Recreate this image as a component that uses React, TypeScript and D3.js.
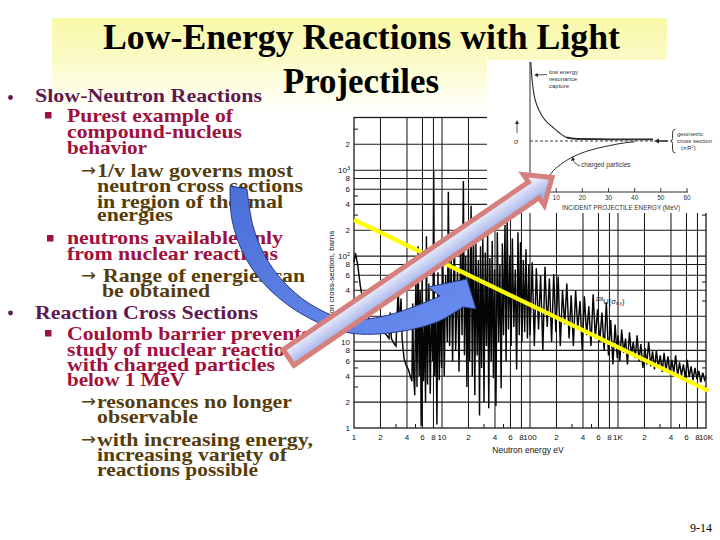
import React from "react";
import * as d3 from "d3";

type Pt = [number, number];

// ---------- main chart: neutron cross section of 238U (energy eV, sigma barns) ----------
const thermalRegion: Pt[] = [
  [1.0, 85], [1.04, 108], [1.1, 80], [1.18, 45], [1.28, 28], [1.42, 20], [1.6, 17],
  [1.85, 15], [2.1, 13.5], [2.35, 12], [2.5, 11], [2.58, 22], [2.66, 11], [2.85, 9.6],
  [3.0, 9], [3.08, 19], [3.18, 44], [3.27, 14], [3.42, 32], [3.52, 11], [3.7, 6.5],
  [3.9, 5.4], [4.15, 4.8], [4.4, 3.9], [4.55, 3.5], [4.65, 28], [4.75, 4.5], [4.9, 2.4],
];

const resolvedLow: Pt[] = [
  [5.05, 75], [5.2, 3], [5.35, 130], [5.5, 4], [5.65, 40], [5.8, 1.05], [5.95, 55],
  [6.15, 3.5], [6.35, 18], [6.5, 2], [6.65, 170], [6.85, 3.2], [7.1, 48], [7.35, 2.5],
  [7.6, 30], [7.85, 6], [8.05, 980], [8.25, 4], [8.5, 26], [8.75, 1.1], [9.0, 65],
  [9.3, 3.6], [9.6, 36], [9.9, 5], [10.2, 110], [10.6, 4], [11.0, 60], [11.5, 10],
  [11.8, 560], [12.2, 9], [12.7, 90], [13.2, 6], [13.8, 200], [14.3, 8], [15.0, 70],
  [15.6, 4.5], [16.3, 150], [16.9, 12], [17.5, 750], [18.0, 7], [18.6, 100], [19.2, 3],
  [19.9, 180], [20.6, 6], [21.4, 385], [22.1, 4], [22.8, 230], [23.6, 2.4], [24.3, 140],
  [25.1, 7], [25.9, 90], [26.7, 1.4], [27.4, 130], [28.2, 5], [29.1, 165], [30.0, 2],
  [31.0, 110], [32.0, 9], [33.0, 180], [34.0, 1.7], [35.0, 95], [36.2, 6], [37.2, 150],
  [38.4, 3.8], [39.6, 70], [41.0, 1.8], [42.5, 190], [44.0, 10], [45.5, 80], [47.0, 2.9],
  [48.5, 140], [50.0, 12], [52.0, 230], [53.5, 6], [55.0, 270], [57.0, 14], [59.0, 100],
  [61.0, 9], [63.0, 160], [65.5, 15], [68.0, 70], [70.5, 4.8], [73.0, 190], [75.5, 12],
  [78.0, 145], [81.0, 10], [84.0, 90], [87.0, 13], [90.0, 120], [93.5, 11], [97.0, 80],
];

const resolvedHigh: Pt[] = [
  [100, 12], [106, 85], [112, 9], [118, 72], [125, 14], [132, 60], [140, 8], [148, 75],
  [157, 15], [166, 55], [176, 10], [186, 62], [197, 13], [209, 58], [221, 9], [234, 40],
  [248, 16], [262, 48], [278, 11], [294, 35], [311, 9], [330, 40], [349, 14], [370, 30],
  [392, 8], [415, 34], [440, 12], [466, 26], [493, 9], [522, 36], [553, 11], [586, 24],
  [620, 10], [657, 22], [696, 8], [737, 29], [780, 7], [826, 18], [875, 5.5], [927, 16],
  [982, 6.5],
];

const unresolvedRegion: Pt[] = [
  [1000, 12], [1050, 6], [1100, 14], [1160, 7.5], [1220, 11], [1280, 5.5], [1350, 13],
  [1420, 7], [1490, 10], [1570, 6.5], [1650, 12], [1730, 6], [1820, 9.5], [1920, 5],
  [2020, 8.5], [2120, 5.5], [2230, 10], [2350, 5.2], [2470, 7.8], [2600, 4.8], [2730, 8],
  [2870, 5], [3020, 7], [3180, 4.5], [3340, 7.5], [3510, 4.6], [3700, 6.8], [3890, 4.2],
  [4090, 6.2], [4300, 4.4], [4520, 7], [4760, 4.0], [5000, 5.8], [5260, 4.1], [5530, 5.5],
  [5820, 3.8], [6120, 6.2], [6440, 3.9], [6770, 5.2], [7120, 3.6], [7490, 5], [7880, 3.7],
  [8290, 4.6], [8720, 3.4], [9170, 4.4], [9650, 3.6], [10000, 3.9],
];

// 1/v trend line (yellow)
const trendEnergy = [1, 10700];
const trendSigma = [265, 2.7];

const xTickValues = [1, 2, 4, 6, 8, 10, 20, 40, 60, 80, 100, 200, 400, 600, 800, 1000, 2000, 4000, 6000, 8000, 10000];
const xTickLabels = ["1", "2", "4", "6", "8", "10", "2", "4", "6", "8", "100", "2", "4", "6", "8", "1K", "2", "4", "6", "8", "10K"];
const yTickValues = [1, 2, 4, 6, 8, 10, 20, 40, 60, 80, 100, 200, 400, 600, 800, 1000, 2000];
const yTickLabels = ["1", "2", "4", "6", "8", "10", "2", "4", "6", "8", "10^2", "2", "4", "6", "8", "10^3", "2"];
const xMinorTicks = [3, 5, 30, 50, 300, 500, 3000, 5000];
const yMinorTicks = [3, 5, 30, 50, 300, 500, 3000];

// ---------- inset: sigma vs incident projectile energy ----------
const insetTickMeV = [10, 20, 30, 40, 50, 60];
const captureCurve: Pt[] = [
  [0.3, 2.55], [0.8, 2.2], [1.5, 1.92], [2.5, 1.72], [3.8, 1.57], [5, 1.46], [6.5, 1.37],
  [8.5, 1.28], [10.3, 1.2], [12, 1.13], [14, 1.07], [17, 1.045], [25, 1.035], [35, 1.03], [47, 1.03],
];
const chargedCurve: Pt[] = [
  [6.5, 0.22], [8, 0.36], [11.5, 0.53], [16.4, 0.69], [23, 0.82], [29.5, 0.9], [37, 0.97], [40, 0.985],
];
const geometricLine: Pt[] = [[0, 1], [47, 1]];

// ---------- slide text ----------
const titleLines = [
  { t: "Low-Energy Reactions with Light", x: 103, y: 49, w: 517 },
  { t: "Projectiles", x: 283, y: 93, w: 156 },
];

// arrow flag: level-3 first lines start with an arrow glyph
const bodyLines = [
  { t: "Slow-Neutron Reactions", x: 35, y: 102, w: 227, lvl: 1, arrow: false },
  { t: "Purest example of", x: 67, y: 122, w: 166, lvl: 2, arrow: false },
  { t: "compound-nucleus", x: 67, y: 138, w: 175, lvl: 2, arrow: false },
  { t: "behavior", x: 67, y: 154, w: 80, lvl: 2, arrow: false },
  { t: "1/v law governs most", x: 97, y: 177, w: 196, lvl: 3, arrow: true },
  { t: "neutron cross sections", x: 97, y: 192, w: 206, lvl: 3, arrow: false },
  { t: "in region of thermal", x: 97, y: 208, w: 186, lvl: 3, arrow: false },
  { t: "energies", x: 97, y: 221, w: 76, lvl: 3, arrow: false },
  { t: "neutrons available only", x: 67, y: 244, w: 216, lvl: 2, arrow: false },
  { t: "from nuclear reactions", x: 67, y: 260, w: 211, lvl: 2, arrow: false },
  { t: "Range of energies can", x: 103, y: 282, w: 202, lvl: 3, arrow: true },
  { t: "be obtained", x: 102, y: 297, w: 108, lvl: 3, arrow: false },
  { t: "Reaction Cross Sections", x: 35, y: 319, w: 223, lvl: 1, arrow: false },
  { t: "Coulomb barrier prevents", x: 67, y: 340, w: 243, lvl: 2, arrow: false },
  { t: "study of nuclear reactions", x: 67, y: 356, w: 238, lvl: 2, arrow: false },
  { t: "with charged particles", x: 67, y: 371, w: 208, lvl: 2, arrow: false },
  { t: "below 1 MeV", x: 67, y: 386, w: 118, lvl: 2, arrow: false },
  { t: "resonances no longer", x: 97, y: 408, w: 195, lvl: 3, arrow: true },
  { t: "observable", x: 97, y: 423, w: 101, lvl: 3, arrow: false },
  { t: "with increasing energy,", x: 97, y: 446, w: 216, lvl: 3, arrow: true },
  { t: "increasing variety of", x: 97, y: 461, w: 190, lvl: 3, arrow: false },
  { t: "reactions possible", x: 97, y: 476, w: 161, lvl: 3, arrow: false },
];
const level1Bullets = [[10.5, 97.5], [10.5, 313]];
const level2Bullets = [[45, 112], [47, 235], [45, 330]];
const levelColor: Record<number, string> = { 1: "#5f1950", 2: "#a0103c", 3: "#553c0a" };

// ---------- annotation shapes ----------
const PINK_TAIL: Pt = [288.5, 357.5];
const PINK_TIP: Pt = [552, 177.5];
const blueOuterEdge: Pt[] = [[230, 186], [232, 220], [245, 257], [270, 290], [307, 317], [350, 333], [397, 332], [437, 322], [463, 307]];
const blueHead: Pt[] = [[476, 309], [467, 279], [428, 287], [440, 296]];
const blueInnerEdge: Pt[] = [[440, 296], [413, 307], [380, 317], [345, 319], [310, 304], [283, 281], [265, 256], [253, 226], [247, 189]];

const SANS = "'Liberation Sans', Arial, sans-serif";
const SERIF = "'Liberation Serif', 'Times New Roman', serif";

export default function App() {
  const x = d3.scaleLog().domain([1, 10000]).range([354, 706]);
  const y = d3.scaleLog().domain([1, 4100]).range([428, 117.5]);
  const spectrum: Pt[] = [...thermalRegion, ...resolvedLow, ...resolvedHigh, ...unresolvedRegion];
  const specLine = d3.line<Pt>().x((d) => x(d[0])).y((d) => y(d[1]));

  const ix = d3.scaleLinear().domain([0, 60]).range([530, 687]);
  const iy = d3.scaleLinear().domain([0, 1]).range([192, 141]);
  const insetLine = d3.line<Pt>().x((d) => ix(d[0])).y((d) => iy(d[1])).curve(d3.curveMonotoneX);

  // pink block arrow
  const [tx, ty] = PINK_TAIL;
  const [px, py] = PINK_TIP;
  const len = Math.hypot(px - tx, py - ty);
  const ux = (px - tx) / len, uy = (py - ty) / len;
  const nx = -uy, ny = ux;
  const h = 9.5, H = 18.5, headLen = 22;
  const bx = px - headLen * ux, by = py - headLen * uy;
  const pinkPts: Pt[] = [
    [tx + h * nx, ty + h * ny], [bx + h * nx, by + h * ny], [bx + H * nx, by + H * ny], [px, py],
    [bx - H * nx, by - H * ny], [bx - h * nx, by - h * ny], [tx - h * nx, ty - h * ny],
  ];
  const pinkPath = "M" + pinkPts.map((p) => p.join(",")).join("L") + "Z";

  // blue curved arrow
  const edge = d3.line<Pt>().curve(d3.curveCatmullRom.alpha(0.5));
  const bluePath =
    (edge(blueOuterEdge) as string) +
    blueHead.map((p) => "L" + p.join(",")).join("") +
    (edge(blueInnerEdge) as string).replace(/^M/, "L") + "Z";

  const xMin = x(1), xMax = x(10000), yBot = y(1), yTop = y(4100);

  const renderYLabel = (lab: string) => {
    if (lab.startsWith("10^")) {
      return (<>10<tspan dy={-3} fontSize={5.5}>{lab.slice(3)}</tspan></>);
    }
    return lab;
  };

  return (
    <svg width={720} height={540} style={{ position: "absolute", left: 0, top: 0 }} xmlns="http://www.w3.org/2000/svg">
      <defs>
        <linearGradient id="titleBg" x1="0" y1="0" x2="0" y2="1">
          <stop offset="0%" stopColor="#f8f8a8" />
          <stop offset="45%" stopColor="#fbfbc8" />
          <stop offset="100%" stopColor="#ffffff" />
        </linearGradient>
        <linearGradient id="pinkFill" gradientUnits="userSpaceOnUse"
          x1={tx - h * nx} y1={ty - h * ny} x2={tx + h * nx} y2={ty + h * ny}>
          <stop offset="0%" stopColor="#eef0fc" />
          <stop offset="100%" stopColor="#a3b2ea" />
        </linearGradient>
        <linearGradient id="blueFill" x1="0" y1="0" x2="1" y2="1">
          <stop offset="0%" stopColor="#4a6fd6" />
          <stop offset="100%" stopColor="#6a8df0" />
        </linearGradient>
      </defs>
      <rect x={0} y={0} width={720} height={540} fill="#ffffff" />
      <rect x={52} y={18} width={615} height={95} fill="url(#titleBg)" />

      {/* title */}
      {titleLines.map((l, i) => (
        <text key={i} x={l.x} y={l.y} fontFamily={SERIF} fontWeight="bold" fontSize={36} fill="#000"
          textLength={l.w} lengthAdjust="spacingAndGlyphs">{l.t}</text>
      ))}

      {/* body text */}
      {level1Bullets.map((b, i) => (
        <circle key={i} cx={b[0]} cy={b[1]} r={2.4} fill={levelColor[1]} />
      ))}
      {level2Bullets.map((b, i) => (
        <rect key={i} x={b[0]} y={b[1]} width={6.5} height={6.5} fill={levelColor[2]} />
      ))}
      {bodyLines.map((l, i) => (
        <g key={i}>
          {l.arrow && (
            <text x={81} y={l.y - 1} fontFamily="'DejaVu Sans', sans-serif" fontSize={17} fill={levelColor[l.lvl]}
              textLength={15} lengthAdjust="spacingAndGlyphs">{"\u2192"}</text>
          )}
          <text x={l.x} y={l.y} fontFamily={SERIF} fontWeight="bold" fontSize={19.5} fill={levelColor[l.lvl]}
            textLength={l.w} lengthAdjust="spacingAndGlyphs">{l.t}</text>
        </g>
      ))}

      {/* main chart */}
      <rect x={322} y={112} width={398} height={348} fill="#ffffff" />
      <g stroke="#1a1a1a" strokeWidth={1.05}>
        {xTickValues.slice(1, -1).map((v, i) => (
          <line key={"gx" + i} x1={x(v)} x2={x(v)} y1={yTop} y2={yBot} />
        ))}
        {yTickValues.slice(1).map((v, i) => (
          <line key={"gy" + i} x1={xMin} x2={xMax} y1={y(v)} y2={y(v)} />
        ))}
        {xMinorTicks.map((v, i) => (
          <line key={"mx" + i} x1={x(v)} x2={x(v)} y1={yBot} y2={yBot - 4} />
        ))}
        {yMinorTicks.map((v, i) => (
          <g key={"my" + i}>
            <line x1={xMin} x2={xMin + 4} y1={y(v)} y2={y(v)} />
            <line x1={xMax} x2={xMax - 4} y1={y(v)} y2={y(v)} />
          </g>
        ))}
        <rect x={xMin} y={yTop} width={xMax - xMin} height={yBot - yTop} fill="none" strokeWidth={1.3} />
      </g>
      <path d={specLine(spectrum) as string} fill="none" stroke="#050505" strokeWidth={1.45} strokeLinejoin="miter" />
      <g fontFamily={SANS} fontSize={8} fill="#111">
        {yTickValues.map((v, i) => (
          <text key={"yl" + i} x={xMin - 4} y={y(v) + 3} textAnchor="end">{renderYLabel(yTickLabels[i])}</text>
        ))}
        {xTickValues.map((v, i) => (
          <text key={"xl" + i} x={x(v)} y={yBot + 12} textAnchor="middle">{xTickLabels[i]}</text>
        ))}
      </g>
      <text x={(xMin + xMax) / 2 - 2} y={yBot + 25} textAnchor="middle" fontFamily={SANS} fontSize={8.5} fill="#111">Neutron energy eV</text>
      <text transform="translate(334,282) rotate(-90)" textAnchor="middle" fontFamily={SANS} fontSize={8} fill="#111">Neutron cross-section, barns</text>
      <text x={x(560)} y={y(28)} fontFamily={SANS} fontSize={7.5} fill="#111">
        <tspan fontSize={4.5} dy={-3}>238</tspan>
        <tspan dy={3}>U(σ</tspan>
        <tspan fontSize={4.5} dy={1.5}>n,γ</tspan>
        <tspan dy={-1.5}>)</tspan>
      </text>

      {/* inset */}
      <rect x={487} y={60} width={233} height={153} fill="#ffffff" />
      <g stroke="#2a2a2a" fill="none">
        <line x1={ix(0)} x2={ix(0)} y1={62} y2={iy(0)} strokeWidth={1} />
        <line x1={ix(0)} x2={ix(60) + 1} y1={iy(0)} y2={iy(0)} strokeWidth={1} />
        {insetTickMeV.map((v, i) => (
          <line key={"it" + i} x1={ix(v)} x2={ix(v)} y1={iy(0)} y2={iy(0) - 4} strokeWidth={0.9} />
        ))}
        <path d={insetLine(geometricLine) as string} strokeDasharray="3,2" strokeWidth={0.9} />
        <path d={insetLine(captureCurve) as string} strokeWidth={1.1} />
        <path d={insetLine(captureCurve.filter((d) => d[0] >= 14)) as string} strokeWidth={1.8} />
        <path d={insetLine(chargedCurve) as string} strokeWidth={1} />
        {/* sigma arrow */}
        <line x1={517} x2={517} y1={133} y2={122} strokeWidth={0.8} />
        <path d="M515,124 L517,120 L519,124 Z" fill="#2a2a2a" stroke="none" />
        {/* low energy pointer */}
        <line x1={547} x2={537} y1={74.5} y2={75} strokeWidth={0.8} />
        <path d="M538,73 L534,75 L538,77 Z" fill="#2a2a2a" stroke="none" />
        {/* charged particle pointer */}
        <path d="M580,166 Q574,164 573,159" strokeWidth={0.8} />
        <path d="M571,161 L572.5,156.5 L575,160 Z" fill="#2a2a2a" stroke="none" />
        {/* geometric pointer and brace */}
        <line x1={668} x2={657} y1={141} y2={141} strokeWidth={1.6} />
        <path d="M659,138.5 L654,141 L659,143.5 Z" fill="#2a2a2a" stroke="none" />
        <path d="M675.5,129 Q672.5,129 672.5,133 L672.5,138.5 Q672.5,141 670.5,141 Q672.5,141 672.5,143.5 L672.5,149 Q672.5,153 675.5,153" strokeWidth={0.9} />
      </g>
      <g fontFamily={SANS} fill="#333" fontSize={6}>
        {insetTickMeV.map((v, i) => (
          <text key={"itl" + i} x={ix(v)} y={iy(0) + 8} textAnchor="middle" fontSize={6.5}>{v}</text>
        ))}
        <text x={562} y={209.5} textLength={118} lengthAdjust="spacingAndGlyphs" fontSize={6.3}>INCIDENT PROJECTILE ENERGY (MeV)</text>
        <text x={514} y={144} fontSize={7}>σ</text>
        <text x={549} y={74}>low energy</text>
        <text x={549} y={81}>resonance</text>
        <text x={549} y={88}>capture</text>
        <text x={581} y={167} fontSize={6.5}>charged particles</text>
        <text x={677} y={136}>geometric</text>
        <text x={677} y={143}>cross section</text>
        <text x={681} y={150}>(πR<tspan dy={-2} fontSize={4}>2</tspan><tspan dy={2}>)</tspan></text>
      </g>

      {/* 1/v trend line */}
      <line x1={x(trendEnergy[0])} y1={y(trendSigma[0])} x2={x(trendEnergy[1])} y2={y(trendSigma[1])}
        stroke="#ffff00" strokeWidth={4.3} />

      {/* blue curved arrow */}
      <path d={bluePath} fill="url(#blueFill)" stroke="#1f2f78" strokeWidth={0.9} strokeLinejoin="round" />

      {/* pink block arrow */}
      <path d={pinkPath} fill="url(#pinkFill)" stroke="#d6807e" strokeWidth={5} strokeLinejoin="miter" />

      <text x={712} y={532} textAnchor="end" fontFamily={SERIF} fontSize={12} fill="#000">9-14</text>
    </svg>
  );
}
